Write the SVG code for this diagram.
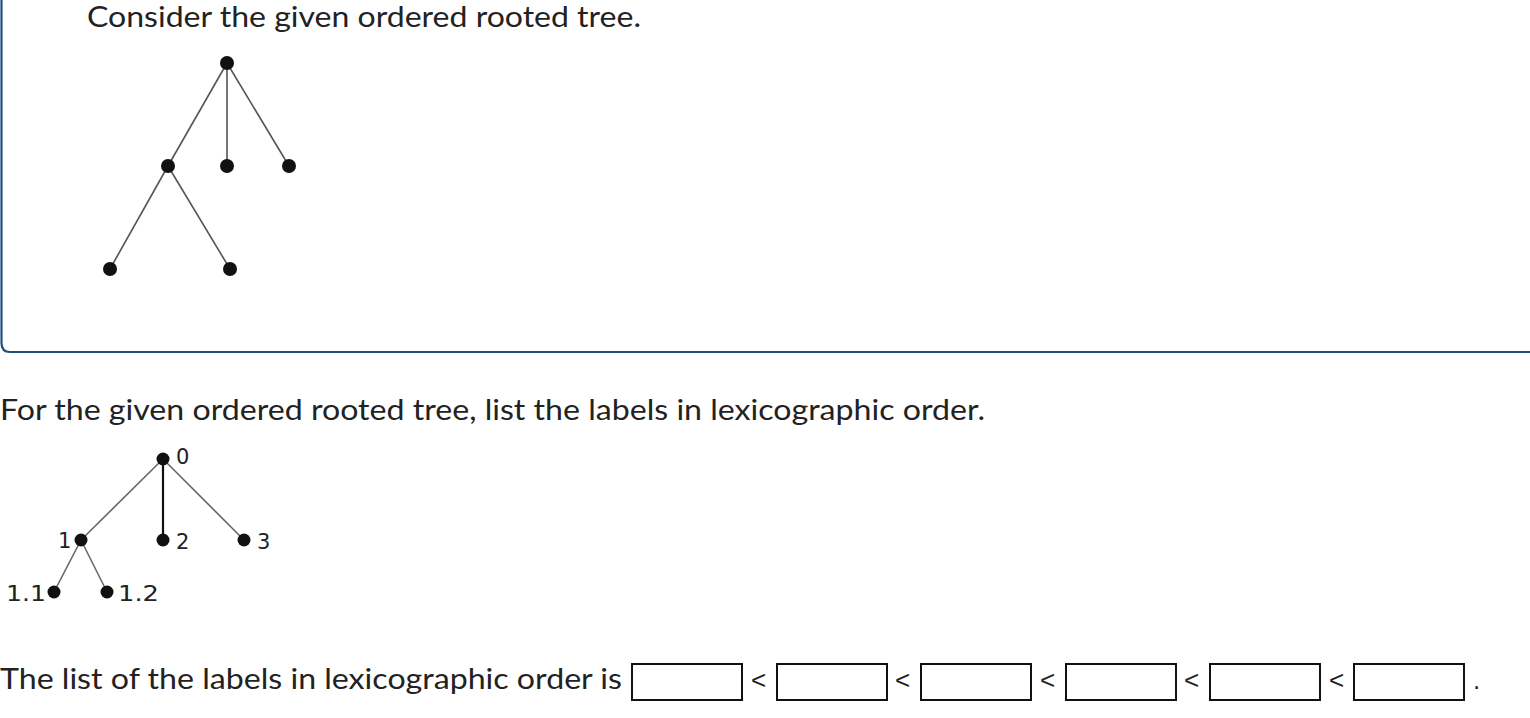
<svg xmlns="http://www.w3.org/2000/svg" width="1530" height="718" viewBox="0 0 1530 718">
<style>
.t{font-family:Lato,"Open Sans","Liberation Sans",sans-serif;font-size:29px;fill:#222}
.lbl{font-family:"DejaVu Sans","Liberation Sans",sans-serif;font-size:21px;fill:#222}
.e1{stroke:#555;stroke-width:1.6;fill:none}
.e2{stroke:#666;stroke-width:1.6;fill:none}
.dot{fill:#111}
.box{fill:#fff;stroke:#111;stroke-width:2}
.lt{font-family:"Liberation Sans",sans-serif;font-size:26px;fill:#222}
</style>
<path d="M1.5 0 V343 Q1.5 352 10 352 H1530" fill="none" stroke="#1f4e80" stroke-width="2.2"/>
<text class="t" x="87" y="27" textLength="554" lengthAdjust="spacingAndGlyphs">Consider the given ordered rooted tree.</text>
<g id="tree1-edges">
<line class="e1" x1="227" y1="63" x2="168" y2="166"/>
<line class="e1" x1="227" y1="63" x2="227" y2="166"/>
<line class="e1" x1="227" y1="63" x2="289" y2="166"/>
<line class="e1" x1="168" y1="166" x2="110" y2="269"/>
<line class="e1" x1="168" y1="166" x2="230" y2="269"/>
</g>
<g id="t1-root"><circle class="dot" cx="227" cy="63" r="7"/></g>
<g id="t1-a"><circle class="dot" cx="168" cy="166" r="7"/></g>
<g id="t1-b"><circle class="dot" cx="227" cy="166" r="7"/></g>
<g id="t1-c"><circle class="dot" cx="289" cy="166" r="7"/></g>
<g id="t1-aa"><circle class="dot" cx="110" cy="269" r="7"/></g>
<g id="t1-ab"><circle class="dot" cx="230" cy="269" r="7"/></g>

<text class="t" x="0" y="420" textLength="985" lengthAdjust="spacingAndGlyphs">For the given ordered rooted tree, list the labels in lexicographic order.</text>
<g id="tree2-edges">
<line class="e2" x1="163" y1="459" x2="81" y2="540"/>
<line x1="163" y1="459" x2="163" y2="540" stroke="#111" stroke-width="2.2"/>
<line class="e2" x1="163" y1="459" x2="244" y2="540"/>
<line class="e2" x1="81" y1="540" x2="54" y2="592"/>
<line class="e2" x1="81" y1="540" x2="107" y2="592"/>
</g>
<g id="n0"><circle class="dot" cx="163" cy="459" r="6.5"/><text class="lbl" x="176" y="464">0</text></g>
<g id="n1"><circle class="dot" cx="81" cy="540" r="6.5"/><text class="lbl" x="58" y="548">1</text></g>
<g id="n2"><circle class="dot" cx="163" cy="540" r="6.5"/><text class="lbl" x="176" y="549">2</text></g>
<g id="n3"><circle class="dot" cx="244" cy="540" r="6.5"/><text class="lbl" x="257" y="549">3</text></g>
<g id="n11"><circle class="dot" cx="54" cy="592" r="6.5"/><text class="lbl" x="6" y="601" textLength="40" lengthAdjust="spacingAndGlyphs">1.1</text></g>
<g id="n12"><circle class="dot" cx="107" cy="592" r="6.5"/><text class="lbl" x="118" y="601" textLength="41" lengthAdjust="spacingAndGlyphs">1.2</text></g>

<text class="t" x="0" y="689" textLength="622" lengthAdjust="spacingAndGlyphs">The list of the labels in lexicographic order is</text>
<g id="answers">
<rect class="box" x="632" y="664" width="110" height="36"/>
<text class="lt" x="751" y="689">&lt;</text>
<rect class="box" x="777" y="664" width="110" height="36"/>
<text class="lt" x="895" y="689">&lt;</text>
<rect class="box" x="921" y="664" width="110" height="36"/>
<text class="lt" x="1040" y="689">&lt;</text>
<rect class="box" x="1066" y="664" width="110" height="36"/>
<text class="lt" x="1184" y="689">&lt;</text>
<rect class="box" x="1210" y="664" width="110" height="36"/>
<text class="lt" x="1329" y="689">&lt;</text>
<rect class="box" x="1354" y="664" width="110" height="36"/>
<text class="lt" x="1473" y="689">.</text>
</g>
</svg>
